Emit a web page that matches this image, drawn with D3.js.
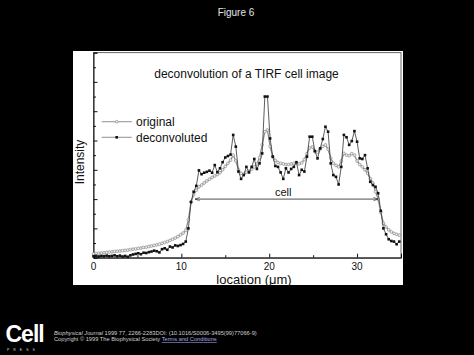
<!DOCTYPE html>
<html><head><meta charset="utf-8">
<script src="https://cdn.jsdelivr.net/npm/d3@7"></script>
<style>html,body{margin:0;padding:0;background:#000;}svg{display:block;}</style>
</head><body>
<script>
// ---- data ----
const sampleStep = 0.3; // µm between samples
const original = [0.13,0.14,0.15,0.16,0.17,0.18,0.19,0.20,0.21,0.22,0.23,0.24,0.25,0.26,0.28,0.29,0.30,0.32,0.33,0.35,
0.36,0.38,0.40,0.42,0.44,0.46,0.49,0.52,0.55,0.59,0.63,0.67,0.72,0.78,0.84,0.93,1.30,1.90,2.15,2.30,
2.42,2.48,2.55,2.62,2.68,2.74,2.79,2.84,2.90,3.00,3.12,3.22,3.33,3.50,3.30,3.00,2.88,2.85,2.92,2.95,
3.02,3.10,3.20,3.42,3.85,4.30,4.36,3.80,3.45,3.32,3.25,3.22,3.20,3.18,3.18,3.20,3.22,3.22,3.20,3.24,
3.35,3.55,3.75,3.78,3.62,3.60,3.72,3.80,3.85,3.70,3.40,3.22,3.15,3.10,3.30,3.56,3.50,3.48,3.55,3.50,
3.30,3.18,3.10,3.00,2.88,2.70,2.55,2.25,2.00,1.55,1.18,1.05,0.95,0.88,0.83,0.80,0.77];
const deconvoluted = [0.05,0.06,0.04,0.06,0.05,0.07,0.05,0.06,0.08,0.05,0.07,0.04,0.06,0.03,0.08,0.11,0.13,0.15,0.12,0.17,
0.16,0.19,0.21,0.24,0.22,0.18,0.29,0.32,0.27,0.38,0.35,0.42,0.40,0.43,0.47,0.55,1.00,1.90,2.25,2.45,
2.98,2.85,2.90,2.93,2.97,2.90,3.16,2.92,3.05,3.26,3.42,3.47,3.52,4.19,3.79,2.94,2.69,2.82,3.10,2.91,
3.10,3.37,3.03,3.22,3.56,5.50,5.50,4.07,3.45,3.13,3.10,2.91,2.69,3.05,2.91,3.03,3.10,3.26,2.82,3.00,
2.94,3.45,4.13,4.13,3.64,3.39,3.73,4.05,4.47,4.30,3.22,2.82,2.76,2.50,3.10,4.19,4.11,3.85,3.98,4.32,
3.96,3.39,3.37,3.50,3.05,2.59,2.48,2.42,2.20,1.60,1.00,0.80,0.63,0.57,0.55,0.46,0.55];
const xTickLabels = [0, 10, 20, 30];
const xDomain = [0, 35];
const yDomain = [0, 7];
const cellRange = [11.55, 32.4];
const cellLevel = 2.0;
const seriesNames = ["original", "deconvoluted"];
const titleText = "deconvolution of a TIRF cell image";

// ---- drawing ----
const W = 474, H = 355;
const svg = d3.select("body").append("svg").attr("width", W).attr("height", H)
  .style("font-family", "'Liberation Sans', Arial, sans-serif");
svg.append("rect").attr("width", W).attr("height", H).attr("fill", "#000");

svg.append("text").attr("x", 236).attr("y", 16).attr("text-anchor", "middle")
  .attr("fill", "#e6e6e6").attr("font-size", 10).text("Figure 6");

// white panel
svg.append("rect").attr("x", 73).attr("y", 51).attr("width", 330).attr("height", 234).attr("fill", "#fff");

const L = 93.5, R = 401, T = 52.6, B = 257.7;
const x = d3.scaleLinear().domain(xDomain).range([L, R]);
const y = d3.scaleLinear().domain(yDomain).range([B, T]);

const g = svg.append("g");
// frame
g.append("rect").attr("x", L).attr("y", T).attr("width", R - L).attr("height", B - T)
  .attr("fill", "none").attr("stroke", "#666").attr("stroke-width", 1);

// y axis ticks (inward, no labels)
const yAxisMaj = d3.axisRight(y).tickValues(d3.range(0, 8, 1)).tickSize(4).tickFormat("");
const yAxisMin = d3.axisRight(y).tickValues(d3.range(0.5, 7, 1)).tickSize(2.5).tickFormat("");
g.append("g").attr("transform", `translate(${L},0)`).call(yAxisMaj).call(s => s.select(".domain").attr("stroke", "#111"));
g.append("g").attr("transform", `translate(${L},0)`).call(yAxisMin).call(s => s.select(".domain").remove());
// x axis ticks (inward)
const xAxisMaj = d3.axisTop(x).tickValues(xTickLabels).tickSize(4).tickFormat("");
const xAxisMin = d3.axisTop(x).tickValues([5, 15, 25]).tickSize(2.5).tickFormat("");
g.append("g").attr("transform", `translate(0,${B})`).call(xAxisMaj).call(s => s.select(".domain").attr("stroke", "#111"));
g.append("g").attr("transform", `translate(0,${B})`).call(xAxisMin).call(s => s.select(".domain").remove());
g.selectAll(".tick line").attr("stroke", "#111");
// x tick labels
g.selectAll(".xlab").data(xTickLabels).join("text").attr("class", "xlab")
  .attr("x", d => x(d)).attr("y", 270).attr("text-anchor", "middle")
  .attr("font-size", 10).attr("fill", "#111").text(d => d);

// axis titles
svg.append("text").attr("x", 254).attr("y", 284).attr("text-anchor", "middle")
  .attr("font-size", 13).attr("fill", "#111").text("location (\u03BCm)");
svg.append("text").attr("transform", "translate(84,162) rotate(-90)").attr("text-anchor", "middle")
  .attr("font-size", 12).attr("fill", "#111").text("Intensity");

// title
svg.append("text").attr("x", 246.5).attr("y", 77.5).attr("text-anchor", "middle")
  .attr("font-size", 12).attr("fill", "#111").text(titleText);

// series
const pts = arr => arr.map((v, i) => [i * sampleStep, v]);
const line = d3.line().x(d => x(d[0])).y(d => y(d[1]));
const oPts = pts(original), dPts = pts(deconvoluted);

g.append("path").datum(oPts).attr("d", line).attr("fill", "none").attr("stroke", "#8c8c8c").attr("stroke-width", 1.3);
g.selectAll(".om").data(oPts).join("circle").attr("class", "om")
  .attr("cx", d => x(d[0])).attr("cy", d => y(d[1])).attr("r", 1.4)
  .attr("fill", "#eee").attr("stroke", "#8c8c8c").attr("stroke-width", 0.7);

g.append("path").datum(dPts).attr("d", line).attr("fill", "none").attr("stroke", "#333").attr("stroke-width", 0.8);
g.selectAll(".dm").data(dPts).join("rect").attr("class", "dm")
  .attr("x", d => x(d[0]) - 1.3).attr("y", d => y(d[1]) - 1.3).attr("width", 2.6).attr("height", 2.6)
  .attr("fill", "#111");

// cell arrow
const defs = svg.append("defs");
defs.append("marker").attr("id", "ah").attr("viewBox", "0 0 10 10").attr("refX", 10).attr("refY", 5)
  .attr("markerWidth", 6).attr("markerHeight", 6).attr("orient", "auto-start-reverse")
  .append("path").attr("d", "M0,1.5 L10,5 L0,8.5").attr("fill", "none").attr("stroke", "#222").attr("stroke-width", 1.2);
g.append("line").attr("x1", x(cellRange[0])).attr("x2", x(cellRange[1]))
  .attr("y1", y(cellLevel)).attr("y2", y(cellLevel))
  .attr("stroke", "#222").attr("stroke-width", 0.8)
  .attr("marker-start", "url(#ah)").attr("marker-end", "url(#ah)");
g.append("text").attr("x", x(21.6)).attr("y", y(cellLevel) - 3.5).attr("text-anchor", "middle")
  .attr("font-size", 11).attr("fill", "#111").text("cell");

// legend
const leg = [
  { name: seriesNames[0], y: 121.7 },
  { name: seriesNames[1], y: 137.3 }
];
leg.forEach((l, i) => {
  svg.append("line").attr("x1", 101.7).attr("x2", 131.7).attr("y1", l.y).attr("y2", l.y)
    .attr("stroke", "#999").attr("stroke-width", 1.1);
  if (i === 0) {
    svg.append("circle").attr("cx", 116.7).attr("cy", l.y).attr("r", 1.4)
      .attr("fill", "#eee").attr("stroke", "#8c8c8c").attr("stroke-width", 0.7);
  } else {
    svg.append("rect").attr("x", 116.7 - 1.3).attr("y", l.y - 1.3).attr("width", 2.6).attr("height", 2.6).attr("fill", "#111");
  }
  svg.append("text").attr("x", 136).attr("y", l.y + 4.3).attr("font-size", 12).attr("fill", "#111").text(l.name);
});

// footer
svg.append("text").attr("x", 5.5).attr("y", 341.5).attr("font-size", 23).attr("font-weight", "bold")
  .attr("fill", "#fff").attr("letter-spacing", -1).text("Cell");
svg.append("text").attr("x", 7).attr("y", 350.5).attr("font-size", 3.5).attr("fill", "#ddd")
  .attr("letter-spacing", 4).text("PRESS");
const f1 = svg.append("text").attr("x", 54).attr("y", 334.8).attr("font-size", 5.7).attr("fill", "#d0d0d0");
f1.append("tspan").attr("font-style", "italic").text("Biophysical Journal");
f1.append("tspan").text(" 1999 77, 2266-2283DOI: (10.1016/S0006-3495(99)77066-9)");
const f2 = svg.append("text").attr("x", 54).attr("y", 341.4).attr("font-size", 5.7).attr("fill", "#d0d0d0");
f2.append("tspan").text("Copyright \u00A9 1999 The Biophysical Society ");
f2.append("tspan").attr("fill", "#a9a9e8").attr("text-decoration", "underline").text("Terms and Conditions");
</script>
</body></html>
